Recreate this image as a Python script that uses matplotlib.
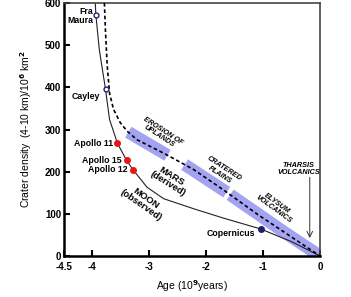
import matplotlib
matplotlib.use("Agg")
import matplotlib.pyplot as plt
import numpy as np

plt.rcParams["font.family"] = ["Liberation Sans", "DejaVu Sans"]
plt.rcParams["font.weight"] = "bold"

# Moon (observed) curve
moon_age = [-3.95, -3.94, -3.88, -3.77, -3.70, -3.56, -3.40, -3.29, -3.04, -2.75, -2.22, -1.70, -1.04, -0.50, 0.0]
moon_density = [600, 572, 490, 395, 324, 267, 227, 205, 163, 136, 112, 90, 64, 34, 0]

# Mars (derived) curve
mars_age = [-3.79, -3.77, -3.74, -3.70, -3.63, -3.51, -3.39, -3.22, -2.75, -2.22, -1.70, -1.09, 0.0]
mars_density = [600, 530, 451, 387, 348, 316, 296, 276, 244, 205, 157, 98, 0]

# dated sites
site_names = ["Fra\nMaura", "Cayley", "Apollo 11", "Apollo 15", "Apollo 12", "Copernicus"]
site_age = [-3.94, -3.77, -3.56, -3.40, -3.29, -1.04]
site_density = [572, 395, 267, 227, 205, 64]
site_kind = ["open", "open", "apollo", "apollo", "apollo", "filled"]

# Mars unit bands (age ranges)
band_names = ["EROSION OF\nUPLANDS", "CRATERED\nPLAINS", "ELYSUM\nVOLCANICS", "THARSIS\nVOLCANICS"]
band_start = [-3.37, -2.38, -1.58, -0.61]
band_end = [-2.68, -1.64, -0.61, 0.0]

xticks = [-4.5, -4, -3, -2, -1, 0]
yticks = [0, 100, 200, 300, 400, 500, 600]

fig = plt.figure(figsize=(3.51, 2.97), dpi=100)
ax = fig.add_axes([64 / 351, 1 - 256 / 297, 256 / 351, 253 / 297])

for x0, x1 in zip(band_start, band_end):
    xs = np.array([x0, x1])
    ys = np.interp(xs, mars_age, mars_density)
    ax.plot(xs, ys, color="#a3a3f2", lw=9, solid_capstyle="butt", zorder=1)

ax.plot(moon_age, moon_density, color="#222222", lw=0.8, zorder=2)
ax.plot(mars_age, mars_density, color="black", lw=1.2, ls=(0, (2.2, 1.6)), zorder=3)

for x, y, k in zip(site_age, site_density, site_kind):
    if k == "apollo":
        ax.plot(x, y, "o", ms=4, mfc="#e8161b", mec="#e8161b", zorder=4)
    elif k == "open":
        ax.plot(x, y, "o", ms=3.5, mfc="white", mec="#1f1f6e", mew=1, zorder=4)
    else:
        ax.plot(x, y, "o", ms=4, mfc="#1f1f6e", mec="#1f1f6e", zorder=4)

fs = 6.3
ax.text(-3.99, 590, site_names[0], ha="right", va="top", fontsize=fs, linespacing=0.95)
ax.text(-4.12, 379, site_names[1], ha="center", va="center", fontsize=fs)
ax.text(-3.64, 267, site_names[2], ha="right", va="center", fontsize=fs)
ax.text(-3.48, 227, site_names[3], ha="right", va="center", fontsize=fs)
ax.text(-3.38, 205, site_names[4], ha="right", va="center", fontsize=fs)
ax.text(-1.56, 54, site_names[5], ha="center", va="center", fontsize=fs)

sty = dict(fontsize=5.2, style="italic", ha="center", va="center", linespacing=0.95)
ax.text(-2.80, 290, band_names[0], rotation=-33, **sty)
ax.text(-1.72, 200, band_names[1], rotation=-33, **sty)
ax.text(-0.79, 118, band_names[2], rotation=-36, **sty)
ax.text(-0.38, 206, band_names[3], rotation=0, **sty)
ax.annotate("", xy=(-0.18, 36), xytext=(-0.18, 193),
            arrowprops=dict(arrowstyle="->", color="#333333", lw=0.7))

ax.text(-2.64, 180, "MARS\n(derived)", rotation=-32, fontsize=6.8, ha="center", va="center", linespacing=0.9)
ax.text(-3.10, 128, "MOON\n(observed)", rotation=-35, fontsize=6.8, ha="center", va="center", linespacing=0.9)

ax.set_xlim(-4.5, 0)
ax.set_ylim(0, 600)
ax.set_xticks(xticks)
ax.set_xticklabels(["-4.5", "-4", "-3", "-2", "-1", "0"])
ax.set_yticks(yticks)
ax.tick_params(direction="in", length=4, width=1.5, labelsize=7, pad=2)
ax.tick_params(axis="x", pad=4)
for s in ["left", "bottom"]:
    ax.spines[s].set_linewidth(1.8)
for s in ["top", "right"]:
    ax.spines[s].set_linewidth(1.2)
    ax.spines[s].set_color("#444444")

ax.set_ylabel(r"Crater density  (4-10 km)/10$\mathbf{^6}$ km$\mathbf{^2}$", fontsize=7.5, labelpad=8)
ax.set_xlabel(r"Age (10$\mathbf{^9}$years)", fontsize=7.5, labelpad=5)

fig.savefig("out.png", dpi=100)
